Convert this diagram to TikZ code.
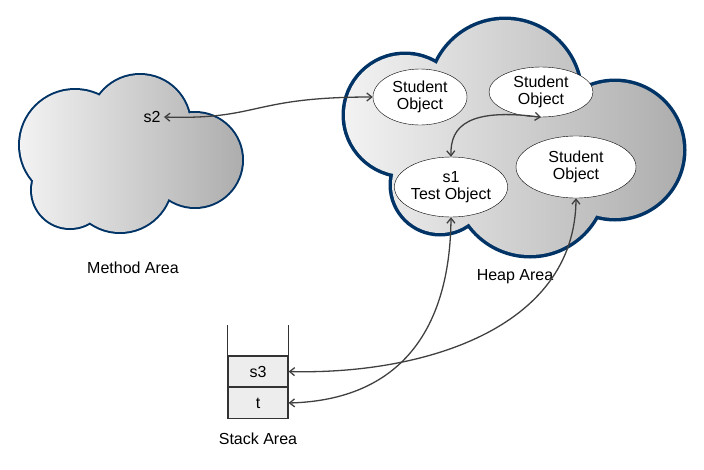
\documentclass[tikz,border=0pt]{standalone}
\usepackage{fontspec}
\setmainfont{Liberation Sans}
\usetikzlibrary{shapes.geometric,arrows.meta}
\begin{document}
\begin{tikzpicture}[x=1pt,y=-1pt,
  lbl/.style={font=\fontsize{16}{18}\selectfont},
  obj/.style={ellipse,draw,fill=white,align=center,inner sep=0pt,font=\fontsize{16}{17}\selectfont},
  con/.style={draw=black!75,line width=1.3pt,{Straight Barb[length=5pt,width=8pt]}-{Straight Barb[length=5pt,width=8pt]}},
  cell/.style={draw=black!80,line width=1.2pt,fill=black!7,minimum width=60pt,minimum height=31pt,inner sep=0pt,font=\fontsize{16}{18}\selectfont}]
\useasboundingbox (0,0) rectangle (704,469);
% heap cloud
\def\heap{(405,115) circle (60) (505,95) circle (75) (615,150) circle (68) (530,180) circle (75) (440,185) circle (48)}
\draw[line width=7pt,draw={rgb,255:red,0;green,51;blue,102}] \heap;
\shade[left color=black!5,right color=black!32] \heap;
% method cloud
\def\meth{(75,145) circle (55) (140,125) circle (50) (195,160) circle (47) (120,180) circle (52) (70,190) circle (38)}
\draw[line width=4pt,draw={rgb,255:red,0;green,51;blue,102}] \meth;
\shade[left color=black!5,right color=black!32] \meth;
\node[lbl] (s2) at (152,117) {s2};
\node[obj,minimum width=94pt,minimum height=56pt] (st1) at (420,97) {Student\\Object};
\node[obj,minimum width=104pt,minimum height=50pt] (st2) at (541,92) {Student\\Object};
\node[obj,minimum width=100pt,minimum height=60pt] (t1) at (451,187) {s1\\Test Object};
\node[obj,minimum width=120pt,minimum height=62pt] (st3) at (576,167) {Student\\Object};
\node[lbl] (ma) at (133,268) {Method Area};
\node[lbl] (ha) at (515,277) {Heap Area};
\node[lbl] (sa) at (258,439) {Stack Area};
\node[cell] (s3) at (258,371.5) {s3};
\node[cell] (t) at (258,403) {t};
\draw[black!80,line width=1.2pt] (s3.north west) -- ++(0,-30) (s3.north east) -- ++(0,-30);
\draw[con] (s2.east) .. controls (260,120) and (250,97) .. (st1.west);
\draw[con] (st2.south) .. controls (470,108) and (450,125) .. (t1.north);
\draw[con] (t1.south) .. controls (450,330) and (400,400) .. (t.east);
\draw[con] (st3.south) .. controls (575,330) and (420,375) .. (s3.east);
\end{tikzpicture}
\end{document}
